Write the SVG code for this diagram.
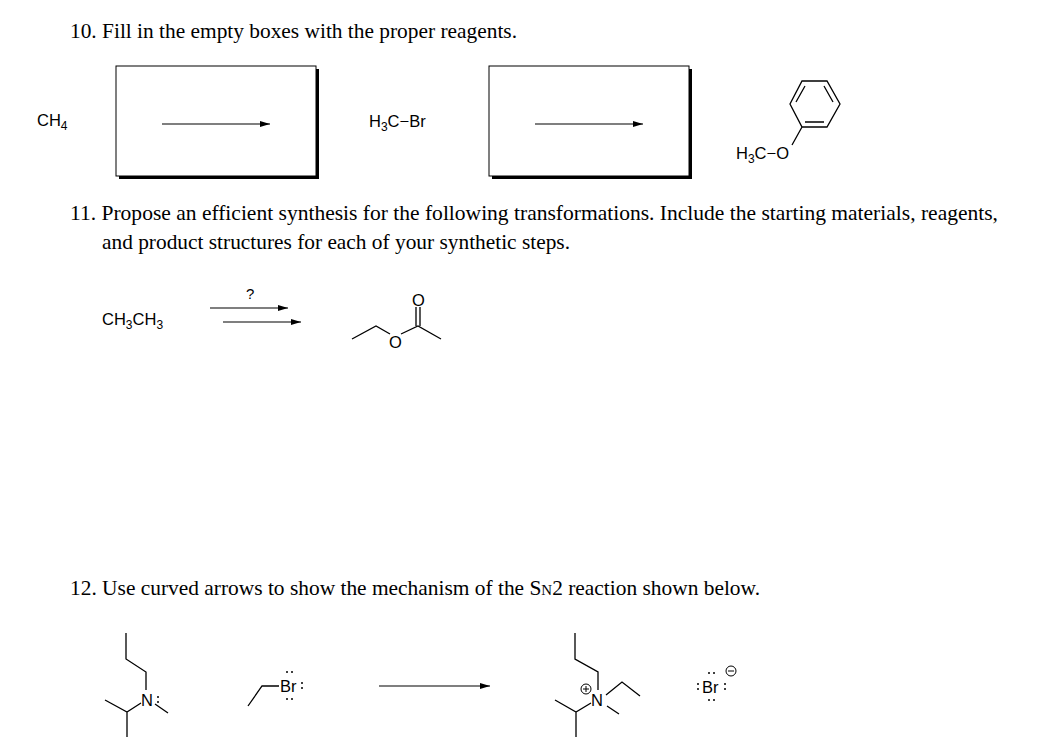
<svg xmlns="http://www.w3.org/2000/svg" width="1043" height="748" viewBox="0 0 1043 748">
<style>
.t{font-family:"Liberation Serif",serif;font-size:21.5px;fill:#000}
.c{font-family:"Liberation Sans",sans-serif;font-size:16.5px;fill:#000}
.s{font-family:"Liberation Sans",sans-serif;font-size:12px}
.b{stroke:#000;stroke-width:1.3;fill:none}
.d{fill:#000}
</style>
<defs><marker id="ah" markerWidth="10" markerHeight="6" refX="10" refY="3" orient="auto" markerUnits="userSpaceOnUse"><path d="M0,0 L10,3 L0,6 z"/></marker></defs>
<rect width="1043" height="748" fill="#fff"/>
<text class="t" x="70" y="38" textLength="447" lengthAdjust="spacingAndGlyphs">10. Fill in the empty boxes with the proper reagents.</text>
<g id="ch4"><text class="c" x="37" y="126">CH<tspan class="s" dy="4">4</tspan></text></g>
<g id="box1"><rect x="119" y="69" width="200" height="110" fill="#000"/><rect x="116" y="66" width="200" height="110" fill="#fff" stroke="#000"/></g>
<g id="box2"><rect x="492" y="69" width="200" height="110" fill="#000"/><rect x="489" y="66" width="200" height="110" fill="#fff" stroke="#000"/></g>
<g id="mebr"><text class="c" x="369" y="127">H<tspan class="s" dy="4">3</tspan><tspan dy="-4">C−Br</tspan></text></g>
<g id="anisole">
<text class="c" x="736" y="159">H<tspan class="s" dy="4">3</tspan><tspan dy="-4">C−O</tspan></text>
<path class="b" d="M802,81 L827,81 L840,104 L827,127 L802,127 L790,104 Z M802,127 L792,145"/>
<path class="b" d="M796,102 L805,86 M824,86 L833,102 M805,122 L824,122"/>
</g>
<text class="t" x="70" y="220" textLength="928" lengthAdjust="spacingAndGlyphs">11. Propose an efficient synthesis for the following transformations.  Include the starting materials, reagents,</text>
<text class="t" x="102" y="249" textLength="468" lengthAdjust="spacingAndGlyphs">and product structures for each of your synthetic steps.</text>
<g id="ethane"><text class="c" x="102" y="325">CH<tspan class="s" dy="4">3</tspan><tspan dy="-4">CH</tspan><tspan class="s" dy="4">3</tspan></text></g>
<text class="c" x="246" y="299" style="font-size:15px">?</text>
<g id="ester">
<path class="b" d="M352,339 L376,326 L390,334 M401,334 L418,326 L441,339 M416,326 L416,307 M420,326 L420,307"/>
<text class="c" x="389" y="348">O</text>
<text class="c" x="412" y="306">O</text>
</g>
<text class="t" x="70" y="595" textLength="690" lengthAdjust="spacingAndGlyphs">12. Use curved arrows to show the mechanism of the S<tspan style="font-size:15px">N</tspan>2 reaction shown below.</text>
<g id="amine">
<path class="b" d="M126,633 L126,659 L146,672 L146,690 M141,703 L127,712 L105,700 M127,712 L127,737 M155,704 L168,713"/>
<text class="c" x="141" y="706">N</text>
<circle class="d" cx="158" cy="697" r="1"/><circle class="d" cx="158" cy="702" r="1"/>
</g>
<g id="etbr">
<path class="b" d="M248,706 L262,686 L279,686"/>
<text class="c" x="280" y="692">Br</text>
<circle class="d" cx="287" cy="672" r="1"/><circle class="d" cx="292" cy="672" r="1"/>
<circle class="d" cx="287" cy="699" r="1"/><circle class="d" cx="292" cy="699" r="1"/>
<circle class="d" cx="302" cy="683" r="1"/><circle class="d" cx="302" cy="688" r="1"/>
</g>
<g id="product">
<path class="b" d="M575,633 L575,659 L598,672 L598,690 M606,695 L622,682 L640,696 M607,706 L619,714 M591,703 L576,712 L555,700 M576,712 L576,737"/>
<text class="c" x="591" y="706">N</text>
<circle cx="586" cy="689" r="5" fill="none" stroke="#000" stroke-width="1"/>
<path class="b" d="M583,689 L589,689 M586,686 L586,692" style="stroke-width:1"/>
</g>
<g id="bromide">
<text class="c" x="702" y="693">Br</text>
<circle class="d" cx="698" cy="684" r="1"/><circle class="d" cx="698" cy="689" r="1"/>
<circle class="d" cx="725" cy="684" r="1"/><circle class="d" cx="725" cy="689" r="1"/>
<circle class="d" cx="709" cy="673" r="1"/><circle class="d" cx="714" cy="673" r="1"/>
<circle class="d" cx="709" cy="700" r="1"/><circle class="d" cx="714" cy="700" r="1"/>
<circle cx="731" cy="671" r="5" fill="none" stroke="#000" stroke-width="1"/>
<path d="M728,671 L734,671" stroke="#000"/>
</g>
<g id="connectors" stroke="#000" stroke-width="1.2" fill="none">
<line x1="162" y1="124" x2="270" y2="124" marker-end="url(#ah)"/>
<line x1="535" y1="124" x2="643" y2="124" marker-end="url(#ah)"/>
<line x1="210" y1="308" x2="288" y2="308" marker-end="url(#ah)"/>
<line x1="223" y1="322" x2="301" y2="322" marker-end="url(#ah)"/>
<line x1="379" y1="686" x2="490" y2="686" marker-end="url(#ah)"/>
</g>
</svg>
